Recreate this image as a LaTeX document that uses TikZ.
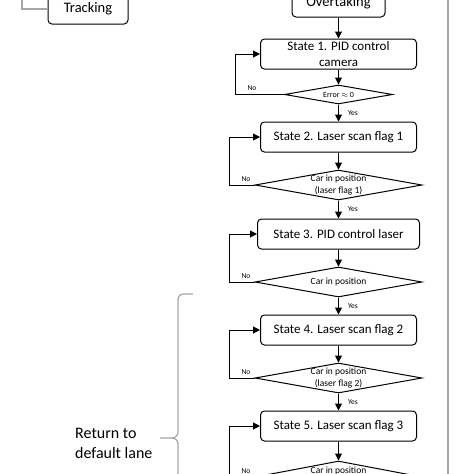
\documentclass[tikz,border=0pt]{standalone}
\usepackage{fontspec}
\setmainfont{Carlito}
\usetikzlibrary{positioning,shapes.geometric,arrows.meta}

\begin{document}
\begin{tikzpicture}[x=1pt,y=-1pt,
state/.style = {rectangle, rounded corners=4pt, draw, line width=1pt, fill=white,
                minimum width=156pt, minimum height=30pt, align=center, inner sep=1pt,
                font=\fontsize{13}{16}\selectfont},
mode/.style = {state, minimum width=80pt, minimum height=30pt,
               font=\fontsize{14.5}{17}\selectfont},
decision/.style = {diamond, draw, line width=1pt, fill=white, aspect=5.6, inner sep=-3pt,
                   minimum width=167pt, minimum height=30pt, align=center,
                   font=\fontsize{9.5}{11.5}\selectfont},
yes/.style = {right=9pt, inner sep=0pt, font=\fontsize{7.5}{9}\selectfont},
no/.style = {anchor=south west, xshift=12pt, yshift=3pt, inner sep=0pt,
             font=\fontsize{7.5}{9}\selectfont},
line/.style = {draw, line width=1pt, -{Triangle[length=7pt,width=7pt]}},
side/.style = {draw=gray!70, line width=1.2pt}]

\useasboundingbox (0,0) rectangle (474,474);

\node [mode] (track) at (88,9) {Tracking};
\node [mode, minimum width=93pt, minimum height=28pt] (over) at (338.5,3) {Overtaking};
\node [state, below=21pt of over] (st1) {State 1. PID control\\camera};
\node [decision, below=15pt of st1, minimum width=108pt, minimum height=19pt, aspect=5.7,
       font=\fontsize{8}{10}\selectfont] (dec1) {Error $\approx$ 0};
\node [state, below=17pt of dec1] (st2) {State 2. Laser scan flag 1};
\node [decision, below=17pt of st2] (dec2) {Car in position\\(laser flag 1)};
\node [state, below=18pt of dec2, minimum width=162pt] (st3) {State 3. PID control laser};
\node [decision, below=17pt of st3] (dec3) {Car in position};
\node [state, below=17pt of dec3] (st4) {State 4. Laser scan flag 2};
\node [decision, below=17pt of st4] (dec4) {Car in position\\(laser flag 2)};
\node [state, below=17pt of dec4] (st5) {State 5. Laser scan flag 3};
\node [decision, below=19pt of st5, minimum height=32pt] (dec5) {Car in position\\(laser flag 3)};

\node [anchor=west, inner sep=0pt, align=left, font=\fontsize{16}{20}\selectfont]
      (ret) at (75,443) {Return to\\default lane};

\coordinate (rail1) at (235,0);
\coordinate (rail) at (229,0);
\coordinate (trackin) at (22,-2);

% main flow
\path [line] (over) -- (st1);
\path [line] (st1) -- (dec1);
\path [line] (dec1) -- node [yes] {Yes} (st2);
\path [line] (st2) -- (dec2);
\path [line] (dec2) -- node [yes] {Yes} (st3);
\path [line] (st3) -- (dec3);
\path [line] (dec3) -- node [yes] {Yes} (st4);
\path [line] (st4) -- (dec4);
\path [line] (dec4) -- node [yes] {Yes} (st5);
\path [line] (st5) -- (dec5);

% loops back
\path [line] (dec1.west) -- (dec1.west -| rail1) node [no] {No} |- (st1.west);
\path [line] (dec2.west) -- (dec2.west -| rail) node [no] {No} |- (st2.west);
\path [line] (dec3.west) -- (dec3.west -| rail) node [no] {No} |- (st3.west);
\path [line] (dec4.west) -- (dec4.west -| rail) node [no] {No} |- (st4.west);
\path [line] (dec5.west) -- (dec5.west -| rail) node [no] {No} |- (st5.west);

% grey parts
\draw [side] (trackin) |- (track.west);
\draw [side] (448,-2) -- (448,476);
\draw [side] (193,294) -- (183,294) to[out=180,in=90] (178,299) -- (178,432)
      to[out=-90,in=0] (172,438) -- (160,438);
\draw [side] (172,438) to[out=0,in=90] (178,444) -- (178,476);
\end{tikzpicture}
\end{document}
